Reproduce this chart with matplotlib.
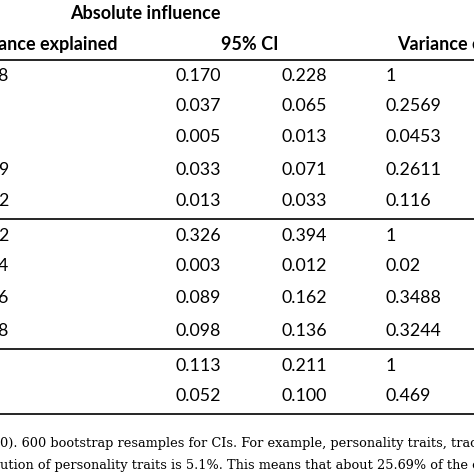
import matplotlib
matplotlib.use("Agg")
import matplotlib.pyplot as plt

ve_partial = ["8", "", "", "9", "2", "2", "4", "6", "8", "", ""]
ci_low = ["0.170", "0.037", "0.005", "0.033", "0.013", "0.326", "0.003", "0.089", "0.098", "0.113", "0.052"]
ci_high = ["0.228", "0.065", "0.013", "0.071", "0.033", "0.394", "0.012", "0.162", "0.136", "0.211", "0.100"]
var_exp = ["1", "0.2569", "0.0453", "0.2611", "0.116", "1", "0.02", "0.3488", "0.3244", "1", "0.469"]
row_y = [76, 106, 137, 170, 201, 236, 266, 298, 331, 366, 396]
foot1 = "0). 600 bootstrap resamples for CIs. For example, personality traits, track, cognitive"
foot2 = "ution of personality traits is 5.1%. This means that about 25.69% of the explained"

fig = plt.figure(figsize=(4.74, 4.74), dpi=100)
ax = fig.add_axes([0, 0, 1, 1])
ax.set_xlim(0, 474); ax.set_ylim(474, 0); ax.axis("off")
F = "Lato"; fs = 12.8
ax.text(145, 13, "Absolute influence", ha="center", va="center", fontsize=13, fontweight="bold", family=F)
ax.text(-2, 44, "ance explained", ha="left", va="center", fontsize=13, fontweight="bold", family=F)
ax.text(250, 44, "95% CI", ha="center", va="center", fontsize=13, fontweight="bold", family=F)
ax.text(397, 44, "Variance explained", ha="left", va="center", fontsize=13, fontweight="bold", family=F)
for yl in [60, 219, 349, 414]:
    ax.plot([0, 474], [yl, yl], color="black", lw=1.2)
for i, y in enumerate(row_y):
    ax.text(8, y, ve_partial[i], ha="right", va="center", fontsize=fs, family=F)
    ax.text(221, y, ci_low[i], ha="right", va="center", fontsize=fs, family=F)
    ax.text(327, y, ci_high[i], ha="right", va="center", fontsize=fs, family=F)
    ax.text(386, y, var_exp[i], ha="left", va="center", fontsize=fs, family=F)
ax.text(0, 443, foot1, ha="left", va="center", fontsize=9.3, family="DejaVu Serif")
ax.text(0, 466, foot2, ha="left", va="center", fontsize=9.3, family="DejaVu Serif")
fig.savefig("out.png", dpi=100)
